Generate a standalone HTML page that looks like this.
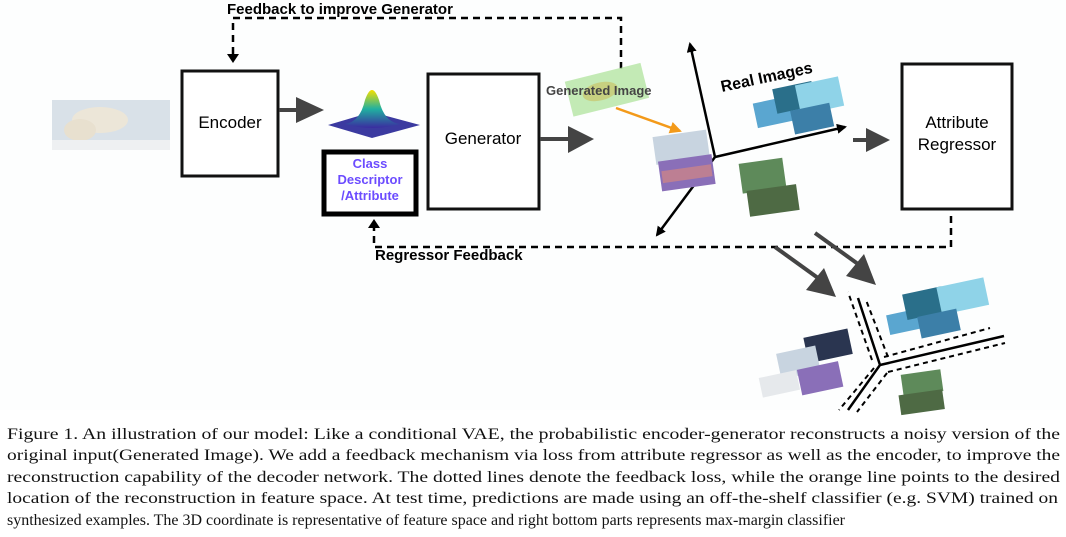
<!DOCTYPE html>
<html><head><meta charset="utf-8"><style>
html,body{margin:0;padding:0;background:#fff;}
svg{display:block}
.b{font-family:"Liberation Sans",sans-serif;font-weight:bold;}
.c{font-family:"Liberation Serif",serif;font-size:16px;fill:#111;}
</style></head><body>
<svg width="1066" height="537" viewBox="0 0 1066 537" xmlns="http://www.w3.org/2000/svg">
<defs>
<linearGradient id="g" x1="0" y1="0" x2="0" y2="1"><stop offset="0" stop-color="#f5e000"/><stop offset="0.5" stop-color="#20b0a0"/><stop offset="1" stop-color="#3a2ba0"/></linearGradient>
<marker id="ah" markerWidth="10" markerHeight="10" refX="8" refY="5" orient="auto" markerUnits="userSpaceOnUse"><path d="M0,0 L10,5 L0,10 z" fill="#000"/></marker>
<marker id="ao" markerWidth="12" markerHeight="12" refX="10" refY="6" orient="auto" markerUnits="userSpaceOnUse"><path d="M0,0 L12,6 L0,12 z" fill="#f39a1a"/></marker>
</defs>
<rect x="0" y="0" width="1066" height="410" fill="#fdfefe"/>
<text x="227" y="14" class="b" font-size="15">Feedback to improve Generator</text>
<path d="M621,69 L621,18 L233,18 L233,56" fill="none" stroke="#000" stroke-width="2.5" stroke-dasharray="7,5"/>
<path d="M227,54 L239,54 L233,63 z" fill="#000"/>
<rect x="52" y="100" width="118" height="50" fill="#d9e1e8"/>
<ellipse cx="100" cy="120" rx="28" ry="13" fill="#ece6d8"/>
<ellipse cx="80" cy="130" rx="16" ry="11" fill="#e8e0cf"/>
<rect x="52" y="140" width="118" height="10" fill="#eef0f2"/>
<rect x="182" y="71" width="96" height="105" fill="#fff" stroke="#111" stroke-width="3"/>
<text x="230" y="128" font-family="Liberation Sans,sans-serif" font-size="17" text-anchor="middle">Encoder</text>
<path d="M279,110 L298,110" stroke="#444" stroke-width="4"/>
<path d="M296,97 L324,110 L296,123 z" fill="#444"/>
<polygon points="328,125 372,112 420,125 372,138" fill="#3b3aa0"/>
<path d="M345,124 Q360,122 365,100 Q372,80 379,100 Q384,122 400,124 Q372,132 345,124 z" fill="url(#g)"/>
<rect x="324" y="152" width="92" height="62" fill="#fff" stroke="#000" stroke-width="5"/>
<text x="370" y="168" class="b" font-size="13" fill="#6c4cff" text-anchor="middle">Class</text>
<text x="370" y="184" class="b" font-size="13" fill="#6c4cff" text-anchor="middle">Descriptor</text>
<text x="370" y="200" class="b" font-size="13" fill="#6c4cff" text-anchor="middle">/Attribute</text>
<rect x="428" y="74" width="111" height="135" fill="#fff" stroke="#111" stroke-width="3"/>
<text x="483" y="144" font-family="Liberation Sans,sans-serif" font-size="17" text-anchor="middle">Generator</text>
<path d="M951,216 L951,247 L374,247 L374,226" fill="none" stroke="#000" stroke-width="2.5" stroke-dasharray="7,5"/>
<path d="M368,228 L380,228 L374,219 z" fill="#000"/>
<text x="375" y="260" class="b" font-size="15">Regressor Feedback</text>
<path d="M540,139 L572,139" stroke="#444" stroke-width="4"/>
<path d="M568,126 L594,139 L568,153 z" fill="#444"/>
<g transform="rotate(-14 606 90)"><rect x="568" y="72" width="78" height="36" fill="#b8e6a8" opacity="0.85"/><ellipse cx="600" cy="90" rx="18" ry="9" fill="#c9c46a" opacity="0.7"/></g>
<text x="546" y="95" class="b" font-size="13" fill="#444">Generated Image</text>
<path d="M616,108 L680,131" stroke="#f39a1a" stroke-width="2.5" marker-end="url(#ao)"/>
<path d="M715,157 L690,44" stroke="#000" stroke-width="2.5" marker-end="url(#ah)"/>
<path d="M715,157 L845,127" stroke="#000" stroke-width="2.5" marker-end="url(#ah)"/>
<path d="M715,157 L657,235" stroke="#000" stroke-width="2.5" marker-end="url(#ah)"/>
<text x="722" y="92" class="b" font-size="16" transform="rotate(-12 722 92)">Real Images</text>
<g transform="rotate(-12 795 110)"><rect x="755" y="95" width="45" height="25" fill="#5aa6d0"/><rect x="777" y="85" width="40" height="25" fill="#2a6f8a"/><rect x="800" y="86" width="44" height="30" fill="#8fd3e8"/><rect x="790" y="110" width="40" height="24" fill="#3c7fa8"/></g>
<g transform="rotate(-8 684 160)"><rect x="656" y="133" width="54" height="28" fill="#c8d4e0"/><rect x="658" y="158" width="54" height="30" fill="#8a6fb8"/><rect x="660" y="168" width="50" height="12" fill="#e08a7a" opacity="0.6"/></g>
<g transform="rotate(-8 768 186)"><rect x="742" y="160" width="44" height="30" fill="#5e8a5a"/><rect x="746" y="188" width="50" height="26" fill="#4e6a44"/></g>
<path d="M853,140 L872,140" stroke="#444" stroke-width="4"/>
<path d="M866,128 L890,140 L866,152 z" fill="#444"/>
<rect x="902" y="64" width="110" height="145" fill="#fff" stroke="#111" stroke-width="3"/>
<text x="957" y="128" font-family="Liberation Sans,sans-serif" font-size="17" text-anchor="middle">Attribute</text>
<text x="957" y="150" font-family="Liberation Sans,sans-serif" font-size="17" text-anchor="middle">Regressor</text>
<path d="M775,247 L818,278" stroke="#444" stroke-width="4"/>
<path d="M806,290 L836,297 L824,268 z" fill="#444"/>
<path d="M815,233 L858,264" stroke="#444" stroke-width="4"/>
<path d="M846,276 L876,285 L864,254 z" fill="#444"/>
<path d="M880,365 L858,298 M880,365 L1004,336 M880,365 L848,410" stroke="#000" stroke-width="2.5" fill="none"/>
<path d="M872,360 L848,292 M888,357 L866,300 M888,372 L1005,343 M884,357 L990,328 M874,368 L839,410 M887,373 L857,412" stroke="#000" stroke-width="2" stroke-dasharray="5,4" fill="none"/>
<g transform="rotate(-12 935 305)"><rect x="885" y="305" width="42" height="20" fill="#5aa6d0"/><rect x="905" y="288" width="40" height="26" fill="#2a6f8a"/><rect x="940" y="288" width="48" height="28" fill="#8fd3e8"/><rect x="915" y="313" width="40" height="22" fill="#3c7fa8"/></g>
<g transform="rotate(-12 805 360)"><rect x="808" y="338" width="45" height="26" fill="#2a3550"/><rect x="778" y="348" width="40" height="26" fill="#c8d4e0"/><rect x="756" y="368" width="38" height="20" fill="#e6e9ec"/><rect x="795" y="368" width="42" height="26" fill="#8a6fb8"/></g>
<g transform="rotate(-8 922 390)"><rect x="903" y="372" width="40" height="22" fill="#5e8a5a"/><rect x="898" y="392" width="44" height="20" fill="#4e6a44"/></g>
<text class="c" x="7" y="439" textLength="1053" lengthAdjust="spacingAndGlyphs">Figure 1. An illustration of our model: Like a conditional VAE, the probabilistic encoder-generator reconstructs a noisy version of the</text>
<text class="c" x="7" y="460" textLength="1053" lengthAdjust="spacingAndGlyphs">original input(Generated Image). We add a feedback mechanism via loss from attribute regressor as well as the encoder, to improve the</text>
<text class="c" x="7" y="482" textLength="1053" lengthAdjust="spacingAndGlyphs">reconstruction capability of the decoder network. The dotted lines denote the feedback loss, while the orange line points to the desired</text>
<text class="c" x="7" y="503" textLength="1051" lengthAdjust="spacingAndGlyphs">location of the reconstruction in feature space. At test time, predictions are made using an off-the-shelf classifier (e.g. SVM) trained on</text>
<text class="c" x="7" y="525" textLength="838" lengthAdjust="spacingAndGlyphs">synthesized examples. The 3D coordinate is representative of feature space and right bottom parts represents max-margin classifier</text>
</svg>
</body></html>
